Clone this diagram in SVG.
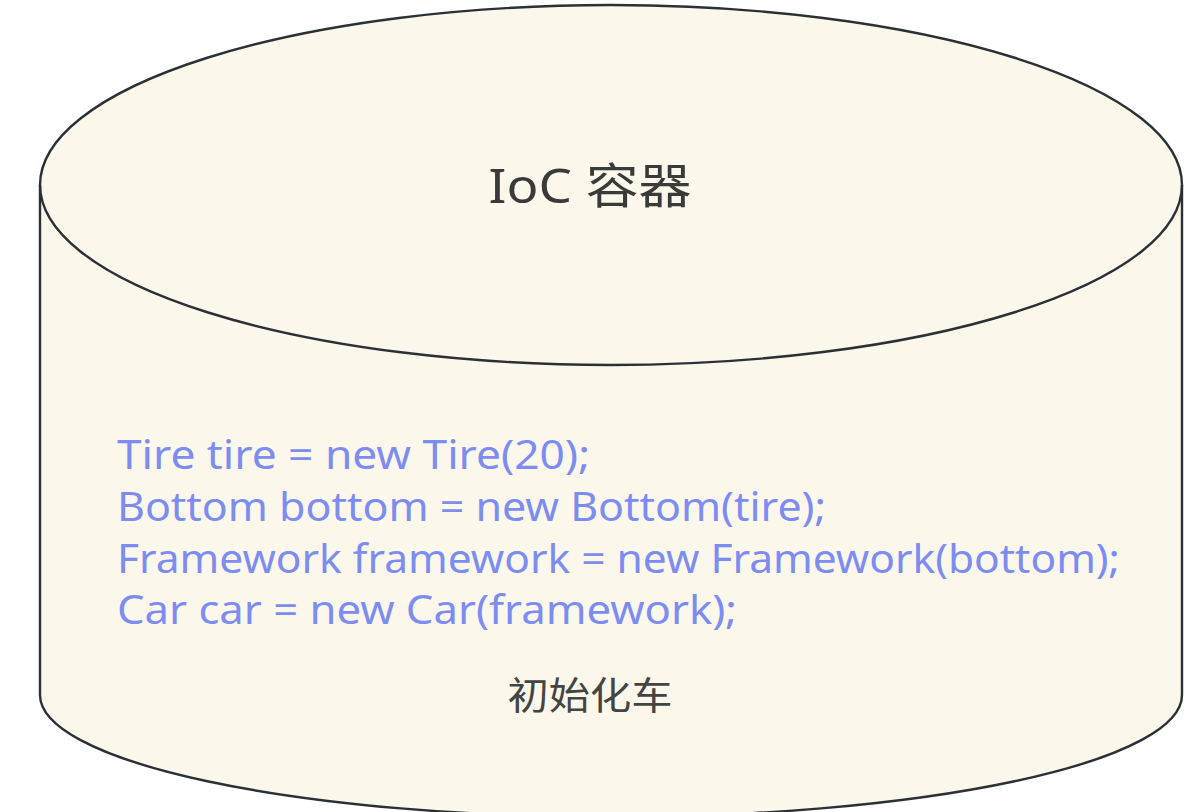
<svg xmlns="http://www.w3.org/2000/svg" width="1201" height="812" viewBox="0 0 1201 812">
<style>
.body{fill:#FBF7EA;stroke:#2A3035;stroke-width:2.4}
.title{font-family:"Noto Sans","Noto Sans CJK SC",sans-serif;fill:#3a3a3a}
.code{font-family:"Noto Sans","Noto Sans CJK SC",sans-serif;font-size:40px;fill:#7C8CF0}
.label{font-family:"Noto Sans CJK SC",sans-serif;font-size:38px;fill:#444}
</style>
<rect width="1201" height="812" fill="#ffffff"/>
<g id="ioc-container">
<path class="body" d="M40,185 A571,180 0 0 1 1182,185 L1182,695 A571,122 0 0 1 40,695 Z"/>
<path class="body" d="M40,185 A571,180 0 0 0 1182,185" style="fill:none"/>
<text class="title" x="590" y="203" font-size="48" text-anchor="middle" textLength="203" lengthAdjust="spacingAndGlyphs">IoC 容器</text>
<text class="code" x="117" y="469" textLength="473" lengthAdjust="spacingAndGlyphs">Tire tire = new Tire(20);</text>
<text class="code" x="117" y="521" textLength="709" lengthAdjust="spacingAndGlyphs">Bottom bottom = new Bottom(tire);</text>
<text class="code" x="117" y="573" textLength="1003" lengthAdjust="spacingAndGlyphs">Framework framework = new Framework(bottom);</text>
<text class="code" x="117" y="624" textLength="620" lengthAdjust="spacingAndGlyphs">Car car = new Car(framework);</text>
<text class="label" x="590" y="709" text-anchor="middle" textLength="165" lengthAdjust="spacingAndGlyphs">初始化车</text>
</g>
</svg>
